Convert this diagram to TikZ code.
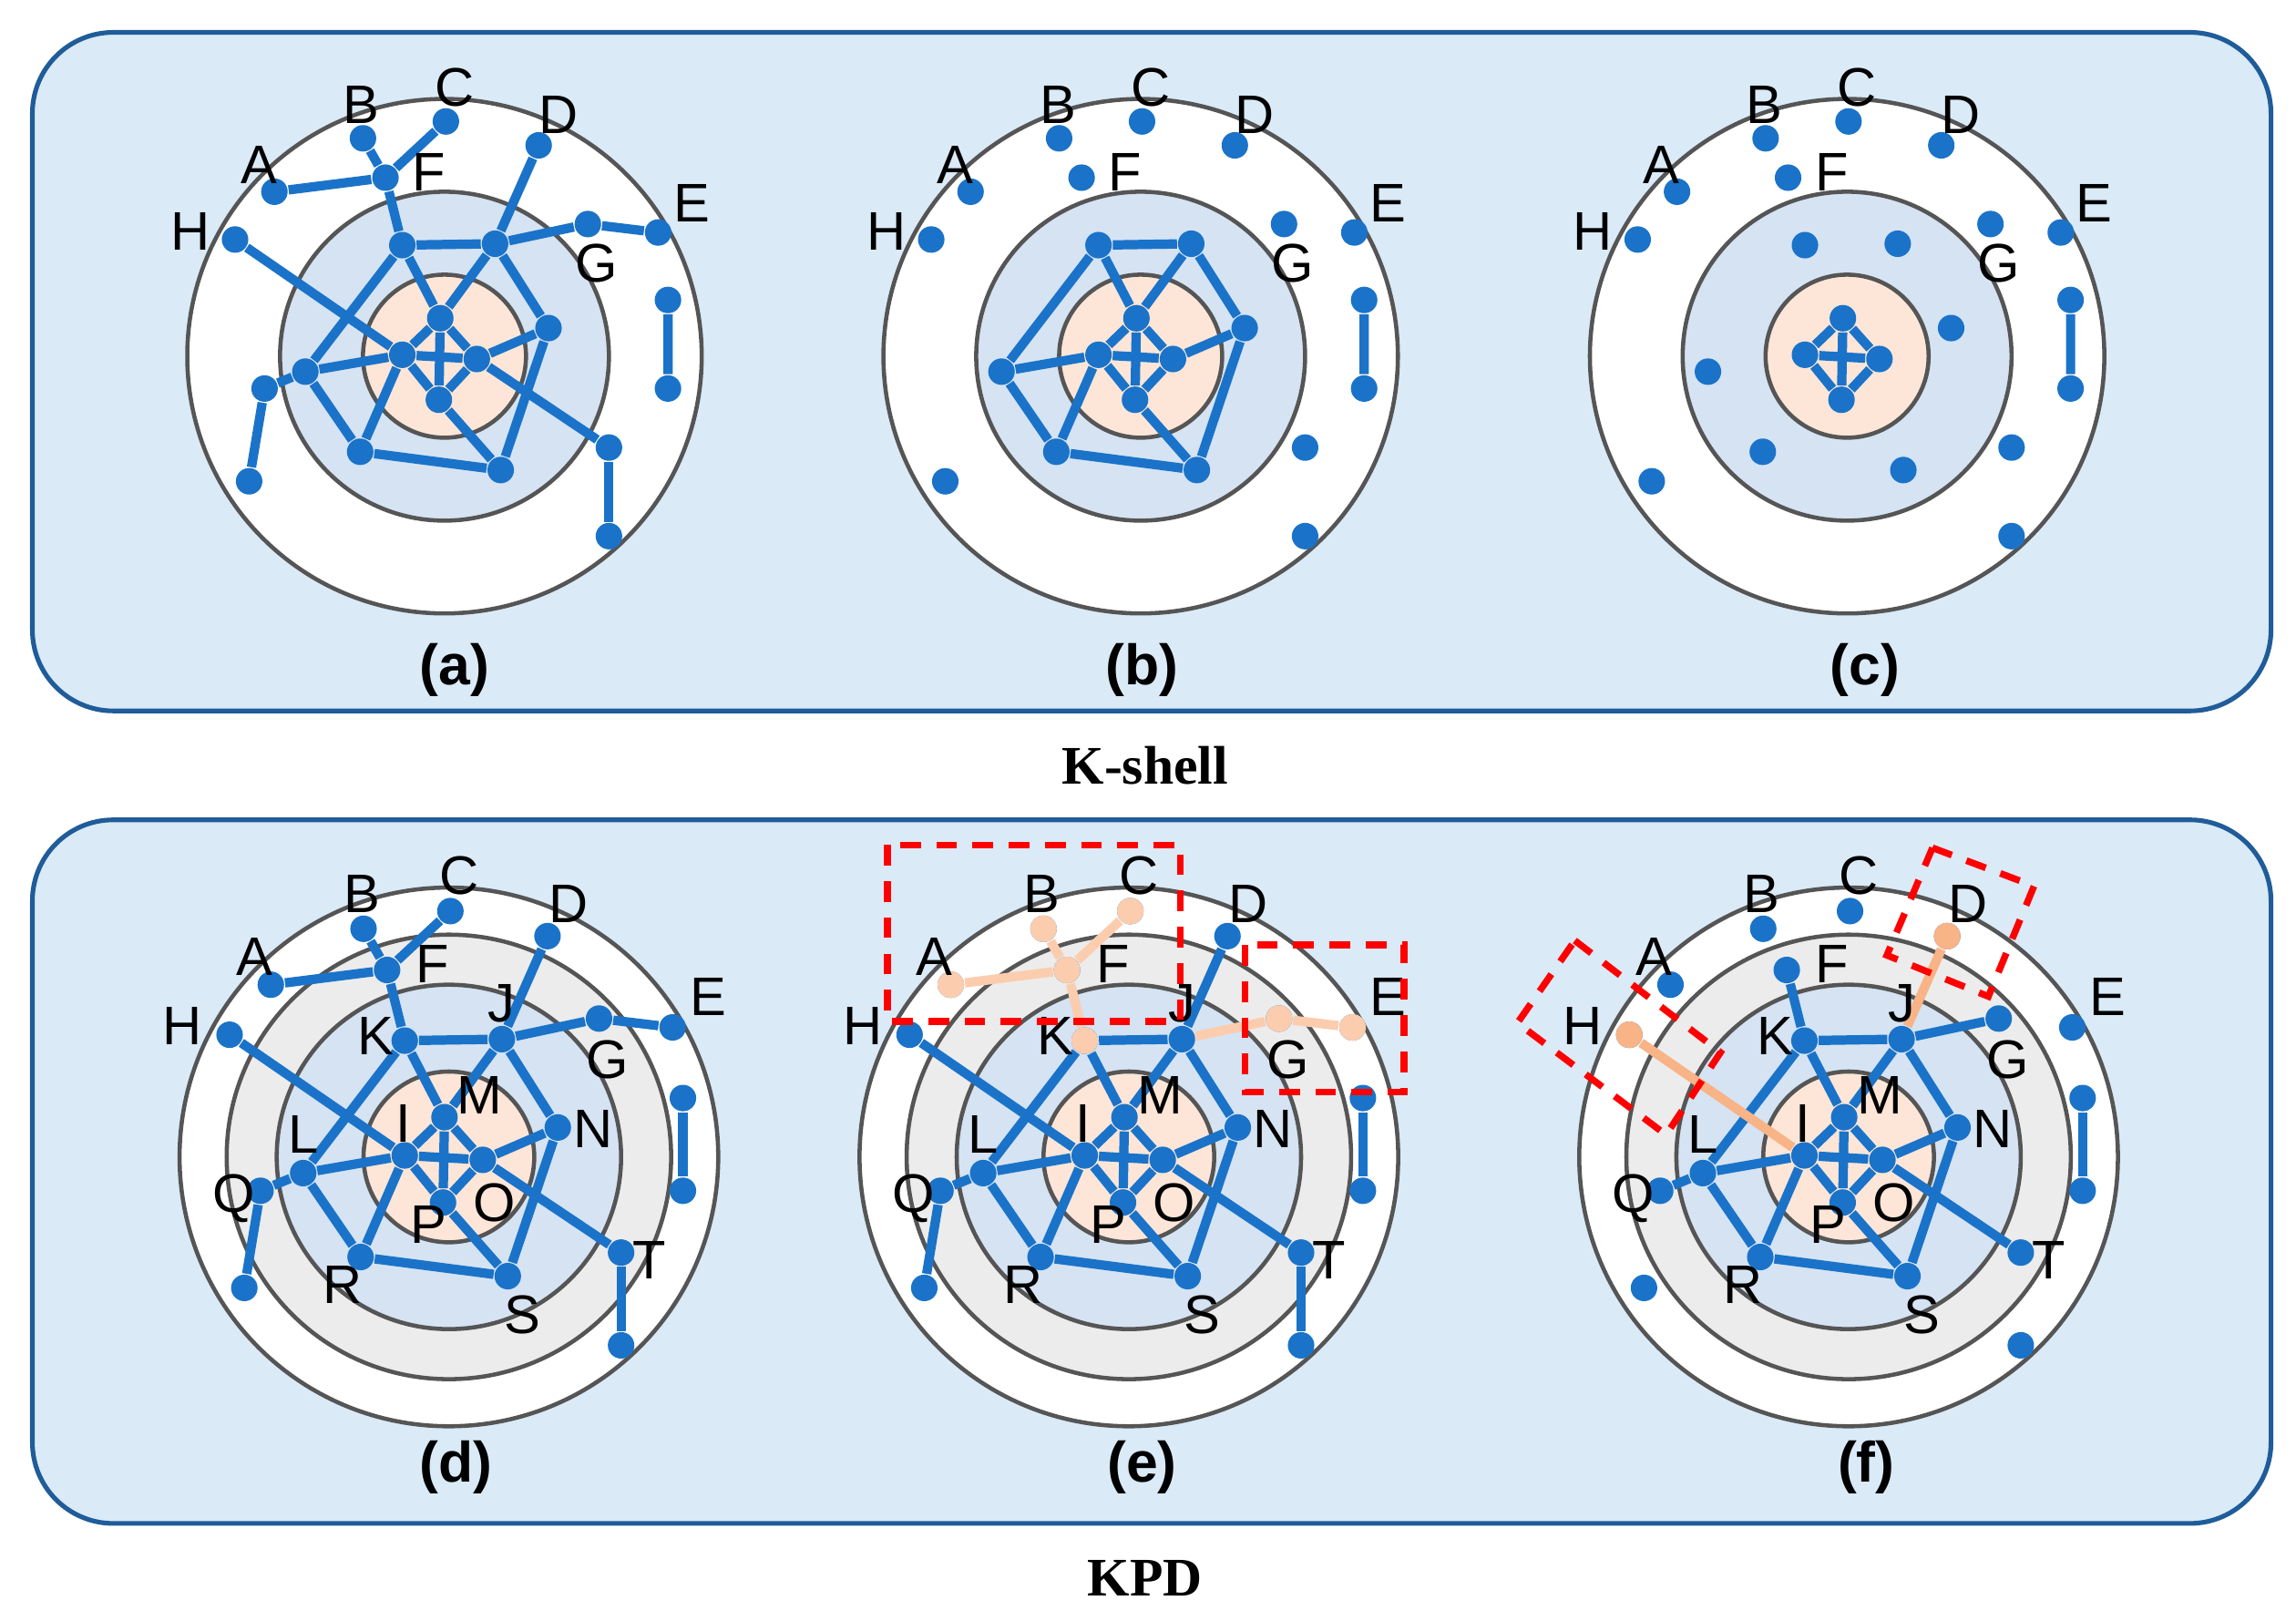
\documentclass[tikz,border=0pt]{standalone}
\usepackage{fontspec}
\setmainfont{Liberation Serif}
\newfontfamily\arialfont{Liberation Sans}
\usetikzlibrary{arrows.meta}

\definecolor{panelbg}{HTML}{DAEAF7}
\definecolor{panelline}{HTML}{1F5C99}
\definecolor{nodeblue}{HTML}{1A73C8}
\definecolor{ringblue}{HTML}{D5E3F3}
\definecolor{ringpeach}{HTML}{FDE6D8}
\definecolor{ringgray}{HTML}{ECECEC}
\definecolor{ringline}{HTML}{555555}
\definecolor{lightorange}{HTML}{FBCDAE}
\definecolor{darkorange}{HTML}{F8B386}

% node layout, relative to the centre of a panel
\def\nodesall{A/-121/-117, B/-58/-155, C/1/-167, D/67/-150, E/152/-88, F/-42/-127, G/102/-94, H/-149/-83, I/-30/-1, J/36/-80, K/-30/-79, L/-99/11, M/-3/-27, N/74/-20, O/23/2, P/-4/31, Q/-128/23, R/-60/68, S/40/81, T/117/65, Q2/-139/89, T2/117/128, U1/159/-40, U2/159/23}
\def\nodesnoq{A/-121/-117, B/-58/-155, C/1/-167, D/67/-150, E/152/-88, F/-42/-127, G/102/-94, H/-149/-83, I/-30/-1, J/36/-80, K/-30/-79, L/-99/11, M/-3/-27, N/74/-20, O/23/2, P/-4/31, R/-60/68, S/40/81, T/117/65, Q2/-139/89, T2/117/128, U1/159/-40, U2/159/23}
\def\labelsAH{A/-132/-136, B/-59/-179, C/7/-191, D/81/-172, E/176/-109, F/-11/-131, G/108/-66, H/-181/-89}
\def\labelsIT{I/-31/-23, J/36/-104, K/-50/-82, L/-99/-15, M/21/-42, N/98/-19, O/31/31, P/-14/46, Q/-146/28, R/-72/87, S/50/107, T/136/70}
\def\coreedges{I/M, I/O, I/P, M/P, M/O, P/O}
\def\inneredges{K/J, K/M, K/L, J/M, J/N, N/O, N/S, L/I, I/R, P/S, R/S, L/R}
\def\outeredges{A/F, B/F, C/F, F/K, D/J, J/G, G/E, H/I, Q/L, Q/Q2, T/O, T/T2}

\tikzset{
  panel/.style={draw=panelline, line width=0.9pt, fill=panelbg, rounded corners=0.55cm},
  ring/.style={draw=ringline, line width=0.8pt},
  dot/.style={circle, fill=nodeblue, inner sep=0pt, minimum size=0.18cm},
  hot/.style={dot, fill=lightorange},
  hotter/.style={dot, fill=darkorange},
  edge/.style={draw=nodeblue, line width=1.8pt},
  hotedge/.style={draw=lightorange, line width=1.8pt},
  hotteredge/.style={draw=darkorange, line width=1.8pt},
  lbl/.style={font=\arialfont\fontsize{10.5}{10.5}\selectfont, inner sep=0pt},
  caption/.style={font=\arialfont\bfseries\fontsize{11}{11}\selectfont, inner sep=0pt},
  title/.style={font=\bfseries\fontsize{10.5}{10.5}\selectfont, inner sep=0pt},
  box/.style={draw=red, line width=1.3pt, dash pattern=on 4pt off 3pt}
}

\begin{document}
\begin{tikzpicture}[x=0.01cm, y=-0.01cm]
  \useasboundingbox (0,0) rectangle (1560,1101);

  \draw[panel] (22,22) rectangle (1543,483);
  \draw[panel] (22,557) rectangle (1543,1035);
  \node[title] (kshell) at (778,520) {K-shell};
  \node[title] (kpd) at (778,1072) {KPD};

  % (a)
  \begin{scope}[shift={(302,242)}, scale=0.955, name prefix=a-]
    \foreach \r/\c in {183/white, 117/ringblue, 58/ringpeach}
      \draw[ring, fill=\c] (0,0) circle[radius=\r];
    \foreach \n/\x/\y in \nodesall {\node[dot] (\n) at (\x,\y) {};}
    \foreach \p/\q in \coreedges {\draw[edge] (\p) -- (\q);}
    \foreach \p/\q in \inneredges {\draw[edge] (\p) -- (\q);}
    \foreach \p/\q in \outeredges {\draw[edge] (\p) -- (\q);}
    \draw[edge] (U1) -- (U2);
    \foreach \n/\x/\y in \labelsAH {\node[lbl] (\n-t) at (\x,\y) {\n};}
  \end{scope}
  \node[caption] (cap-a) at (309,455) {(a)};

  % (b)
  \begin{scope}[shift={(775,242)}, scale=0.955, name prefix=b-]
    \foreach \r/\c in {183/white, 117/ringblue, 58/ringpeach}
      \draw[ring, fill=\c] (0,0) circle[radius=\r];
    \foreach \n/\x/\y in \nodesnoq {\node[dot] (\n) at (\x,\y) {};}
    \foreach \p/\q in \coreedges {\draw[edge] (\p) -- (\q);}
    \foreach \p/\q in \inneredges {\draw[edge] (\p) -- (\q);}
    \draw[edge] (U1) -- (U2);
    \foreach \n/\x/\y in \labelsAH {\node[lbl] (\n-t) at (\x,\y) {\n};}
  \end{scope}
  \node[caption] (cap-b) at (776,455) {(b)};

  % (c)
  \begin{scope}[shift={(1255,242)}, scale=0.955, name prefix=c-]
    \foreach \r/\c in {183/white, 117/ringblue, 58/ringpeach}
      \draw[ring, fill=\c] (0,0) circle[radius=\r];
    \foreach \n/\x/\y in \nodesnoq {\node[dot] (\n) at (\x,\y) {};}
    \foreach \p/\q in \coreedges {\draw[edge] (\p) -- (\q);}
    \draw[edge] (U1) -- (U2);
    \foreach \n/\x/\y in \labelsAH {\node[lbl] (\n-t) at (\x,\y) {\n};}
  \end{scope}
  \node[caption] (cap-c) at (1267,455) {(c)};

  % (d)
  \begin{scope}[shift={(305,786)}, name prefix=d-]
    \foreach \r/\c in {183/white, 151/ringgray, 117/ringblue, 58/ringpeach}
      \draw[ring, fill=\c] (0,0) circle[radius=\r];
    \foreach \n/\x/\y in \nodesall {\node[dot] (\n) at (\x,\y) {};}
    \foreach \p/\q in \coreedges {\draw[edge] (\p) -- (\q);}
    \foreach \p/\q in \inneredges {\draw[edge] (\p) -- (\q);}
    \foreach \p/\q in \outeredges {\draw[edge] (\p) -- (\q);}
    \draw[edge] (U1) -- (U2);
    \foreach \n/\x/\y in \labelsAH {\node[lbl] (\n-t) at (\x,\y) {\n};}
    \foreach \n/\x/\y in \labelsIT {\node[lbl] (\n-t) at (\x,\y) {\n};}
  \end{scope}
  \node[caption] (cap-d) at (310,997) {(d)};

  % (e)
  \begin{scope}[shift={(767,786)}, name prefix=e-]
    \foreach \r/\c in {183/white, 151/ringgray, 117/ringblue, 58/ringpeach}
      \draw[ring, fill=\c] (0,0) circle[radius=\r];
    \foreach \n/\x/\y in \nodesall {\node[dot] (\n) at (\x,\y) {};}
    \foreach \n in {A,B,C,F,K,G,E} {\node[hot] (\n) at (\n.center) {};}
    \foreach \p/\q in \coreedges {\draw[edge] (\p) -- (\q);}
    \foreach \p/\q in \inneredges {\draw[edge] (\p) -- (\q);}
    \foreach \p/\q in {D/J, H/I, Q/L, Q/Q2, T/O, T/T2, U1/U2} {\draw[edge] (\p) -- (\q);}
    \foreach \p/\q in {A/F, B/F, C/F, F/K, J/G, G/E} {\draw[hotedge] (\p) -- (\q);}
    \foreach \n/\x/\y in \labelsAH {\node[lbl] (\n-t) at (\x,\y) {\n};}
    \foreach \n/\x/\y in \labelsIT {\node[lbl] (\n-t) at (\x,\y) {\n};}
  \end{scope}
  \draw[box] (603,574) rectangle (802,694);
  \draw[box] (846,642) rectangle (954,742);
  \node[caption] (cap-e) at (776,997) {(e)};

  % (f)
  \begin{scope}[shift={(1256,786)}, name prefix=f-]
    \foreach \r/\c in {183/white, 151/ringgray, 117/ringblue, 58/ringpeach}
      \draw[ring, fill=\c] (0,0) circle[radius=\r];
    \foreach \n/\x/\y in \nodesall {\node[dot] (\n) at (\x,\y) {};}
    \foreach \n in {H,D} {\node[hotter] (\n) at (\n.center) {};}
    \foreach \p/\q in \coreedges {\draw[edge] (\p) -- (\q);}
    \foreach \p/\q in \inneredges {\draw[edge] (\p) -- (\q);}
    \foreach \p/\q in {F/K, J/G, Q/L, T/O, U1/U2} {\draw[edge] (\p) -- (\q);}
    \foreach \p/\q in {H/I, D/J} {\draw[hotteredge] (\p) -- (\q);}
    \draw[box] (-186,-147) -- (-87,-71) -- (-124,-15) -- (-225,-91) -- cycle;
    \draw[box] (57,-210) -- (126,-184) -- (95,-109) -- (26,-137) -- cycle;
    \foreach \n/\x/\y in \labelsAH {\node[lbl] (\n-t) at (\x,\y) {\n};}
    \foreach \n/\x/\y in \labelsIT {\node[lbl] (\n-t) at (\x,\y) {\n};}
  \end{scope}
  \node[caption] (cap-f) at (1268,997) {(f)};
\end{tikzpicture}
\end{document}
